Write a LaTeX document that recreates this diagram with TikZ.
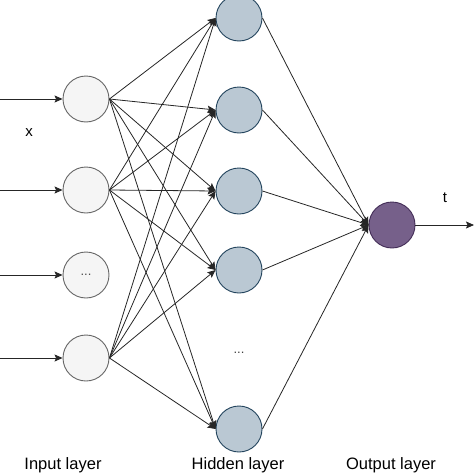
\documentclass[tikz,border=0pt]{standalone}
\usepackage{fontspec}
\setmainfont{Liberation Sans}
\definecolor{ingray}{HTML}{F5F5F5}
\definecolor{inborder}{HTML}{666666}
\definecolor{hidfill}{HTML}{BAC8D3}
\definecolor{hidborder}{HTML}{23445D}
\definecolor{outfill}{HTML}{76608A}
\definecolor{outborder}{HTML}{432D57}
\usetikzlibrary{arrows.meta}
\tikzset{
	inunit/.style={circle, minimum size=46pt, inner sep=0pt, draw=inborder, fill=ingray, line width=0.9pt, text=black!70, font=\fontsize{13}{15}\selectfont},
	hidunit/.style={circle, minimum size=46pt, inner sep=0pt, draw=hidborder, fill=hidfill, line width=0.9pt},
	outunit/.style={circle, minimum size=46pt, inner sep=0pt, draw=outborder, fill=outfill, line width=0.9pt},
	link/.style={-{Stealth[length=8pt, width=7pt, inset=1.5pt]}, line width=0.8pt, draw=black!85},
	layerlabel/.style={anchor=base, inner sep=0pt, font=\fontsize{16.5}{20}\selectfont},
	varlabel/.style={inner sep=0pt, font=\fontsize{15}{18}\selectfont},
	dotslabel/.style={inner sep=0pt, text=black!75, font=\fontsize{13}{15}\selectfont},
}
\begin{document}
\begin{tikzpicture}[x=1pt, y=-1pt]
	\clip (0,0) rectangle (474,474);
	% input layer
	\node[inunit] (in1) at (86,99) {};
	\node[inunit] (in2) at (86,190) {};
	\node[inunit] (in3) at (86,275) {...};
	\node[inunit] (in4) at (86,358) {};
	\foreach \i/\y in {1/99,2/190,3/275,4/358}{
		\coordinate (src\i) at (0,\y);
		\draw[link] (src\i) -- (in\i);
	}
	\node[varlabel] (xlab) at (29,133) {x};
	% hidden layer
	\foreach \j/\y in {1/18,2/110,3/191,4/270,5/429}{\node[hidunit] (hid\j) at (239,\y) {};}
	\node[dotslabel] (hdots) at (239,353) {...};
	% output layer
	\node[outunit] (out) at (392,225) {};
	\coordinate (sink) at (474,225);
	\node[varlabel] (tlab) at (445,198) {t};
	% connections
	\foreach \i in {1,2,4}{
		\foreach \j in {1,...,5}{\draw[link] (in\i.east) -- (hid\j.west);}
	}
	\foreach \j in {1,...,5}{\draw[link] (hid\j.east) -- (out.west);}
	\draw[link] (out) -- (sink);
	% layer names
	\node[layerlabel] (inname) at (63,469.5) {Input layer};
	\node[layerlabel] (hidname) at (238,469.5) {Hidden layer};
	\node[layerlabel] (outname) at (391,469.5) {Output layer};
\end{tikzpicture}
\end{document}
